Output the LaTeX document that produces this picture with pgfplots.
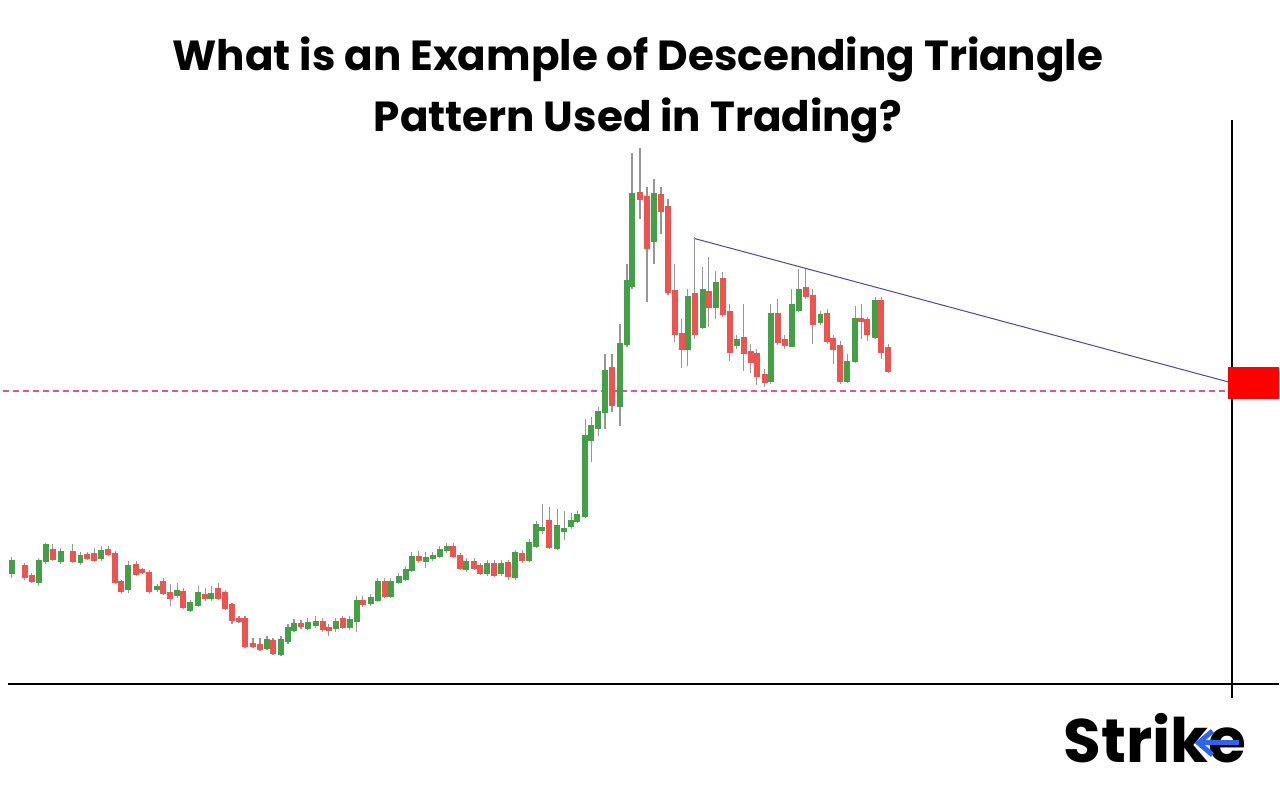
\documentclass[border=0pt]{standalone}
\usepackage{pgfplots}
\pgfplotsset{compat=1.18}
\usepackage{pgfplotstable}
\usepackage{fontspec}
\setmainfont{Poppins}

\definecolor{cgreen}{RGB}{67,160,71}
\definecolor{cred}{RGB}{239,83,80}
\definecolor{wick}{RGB}{150,150,150}
\definecolor{trend}{RGB}{70,70,170}
\definecolor{support}{RGB}{230,80,150}
\definecolor{strikeblue}{RGB}{45,100,240}

% candles in picture pixels: x, body top, body bottom, wick top, wick bottom
\pgfplotstableread{
x   bt  bb  wt  wb
9   563 575 559 580
36  563 584 560 588
43  547 563 544 566
58  554 563 550 566
78  558 564 554 567
99  553 560 548 563
126 568 591 563 595
155 589 591 586 594
175 593 597 585 600
188 605 612 602 614
196 595 607 588 609
209 596 600 588 603
265 642 650 638 652
279 642 656 638 658
286 630 643 626 646
292 626 632 621 634
306 625 630 620 632
314 624 627 618 630
334 624 630 620 634
348 622 629 618 632
355 603 623 598 634
369 600 605 596 608
376 584 602 580 604
389 584 598 580 600
397 579 584 575 586
404 572 581 568 583
410 559 572 554 574
424 560 563 554 570
431 558 560 554 563
438 552 558 548 560
445 549 552 545 555
465 564 571 560 574
486 566 575 562 578
500 566 575 562 578
514 555 579 552 582
528 544 562 540 564
535 526 548 522 550
541 529 531 505 535
556 527 550 510 552
563 530 532 512 541
570 522 527 514 530
576 516 522 512 524
584 437 517 420 519
590 427 441 418 463
597 413 429 408 437
604 372 413 355 430
619 345 407 325 427
626 282 345 265 348
631 195 287 153 290
653 195 242 180 265
687 298 350 290 367
702 291 328 268 330
715 284 308 272 320
736 341 346 336 350
770 315 382 305 385
791 306 347 290 348
798 291 311 270 313
820 316 323 312 326
847 363 382 355 384
855 320 362 307 364
875 302 338 298 340
}\greentab

\pgfplotstableread{
x   bt  bb  wt  wb
22  568 579 565 582
29  578 583 575 585
50  552 561 546 563
70  554 563 546 565
85  557 560 554 562
92  556 562 550 564
106 552 556 548 558
113 556 584 553 586
119 584 593 582 596
134 567 576 563 578
140 572 574 570 576
147 575 593 572 596
161 584 595 580 597
168 595 600 586 608
181 594 609 590 611
203 597 600 590 603
216 591 600 585 602
223 595 610 592 612
230 607 622 605 626
237 621 623 618 625
243 621 648 618 650
251 646 648 640 650
258 647 651 640 653
271 643 655 640 657
299 626 628 622 631
321 624 631 620 634
327 630 632 626 638
341 621 629 618 631
361 603 606 598 609
383 584 598 580 600
417 559 562 553 565
452 549 558 545 560
459 558 570 555 572
473 564 570 560 572
479 568 575 565 577
493 566 577 562 579
507 565 578 562 582
521 556 562 552 565
548 522 549 508 551
611 369 406 355 413
639 194 200 148 220
646 198 249 188 303
660 196 212 188 235
667 208 293 200 296
674 292 335 265 343
681 335 350 320 369
694 295 335 238 340
708 293 308 258 328
722 280 315 273 318
729 313 353 305 362
743 339 354 305 372
750 353 363 345 374
756 355 377 350 386
764 376 383 370 388
777 315 343 300 346
784 341 346 336 350
805 289 297 270 300
812 297 325 290 345
827 315 342 310 345
833 340 350 336 365
840 347 382 342 385
861 320 322 305 340
867 321 335 318 342
881 302 353 298 360
888 349 372 345 374
}\redtab

\pgfplotsset{
  wicks/.style={draw=none, mark=none,
    error bars/.cd, y dir=both, y explicit, error mark=none,
    error bar style={draw=wick, line width=0.12mm}},
  bodies/.style={draw=none, mark=none,
    error bars/.cd, y dir=both, y explicit, error mark=none,
    error bar style={draw=#1, line width=0.6mm}},
}

\begin{document}
\begin{tikzpicture}
\begin{axis}[
  scale only axis,
  width=12.8cm, height=8cm,
  xmin=0, xmax=1280, ymin=0, ymax=800,
  y dir=reverse,
  hide axis,
  clip=false,
]
% page background
\fill[white] (axis cs:0,0) rectangle (axis cs:1280,800);

% support level and descending trendline
\draw[support, line width=0.12mm, dash pattern=on 0.6mm off 0.4mm] (axis cs:0,392) -- (axis cs:1229,392);
\draw[trend, line width=0.1mm] (axis cs:693,239) -- (axis cs:1229,383);

% wicks
\addplot[wicks] table[x=x, y expr=(\thisrow{wt}+\thisrow{wb})/2, y error expr=(\thisrow{wb}-\thisrow{wt})/2] {\greentab};
\addplot[wicks] table[x=x, y expr=(\thisrow{wt}+\thisrow{wb})/2, y error expr=(\thisrow{wb}-\thisrow{wt})/2] {\redtab};
% bodies
\addplot[bodies=cgreen] table[x=x, y expr=(\thisrow{bt}+\thisrow{bb})/2, y error expr=(\thisrow{bb}-\thisrow{bt})/2+1] {\greentab};
\addplot[bodies=cred] table[x=x, y expr=(\thisrow{bt}+\thisrow{bb})/2, y error expr=(\thisrow{bb}-\thisrow{bt})/2+1] {\redtab};

% frame lines
\draw[black, line width=0.15mm] (axis cs:5,686) -- (axis cs:1280,686);
\draw[black, line width=0.2mm] (axis cs:1233,120) -- (axis cs:1233,700);
\fill[red] (axis cs:1229,368) rectangle (axis cs:1280,400);

% title
\node[font=\fontsize{12}{14}\selectfont\bfseries, align=center] at (axis cs:637,90)
  {What is an Example of Descending Triangle\\[1.2mm]Pattern Used in Trading?};

% logo
\node[font=\fontsize{17.5}{20}\selectfont\bfseries, anchor=base west, inner sep=0pt] at (axis cs:1063,765) {Strike};
\draw[strikeblue, line width=0.5mm] (axis cs:1240,745) -- (axis cs:1200,745);
\draw[strikeblue, line width=0.5mm] (axis cs:1213,733) -- (axis cs:1199,745) -- (axis cs:1213,757);
\end{axis}
\end{tikzpicture}
\end{document}
